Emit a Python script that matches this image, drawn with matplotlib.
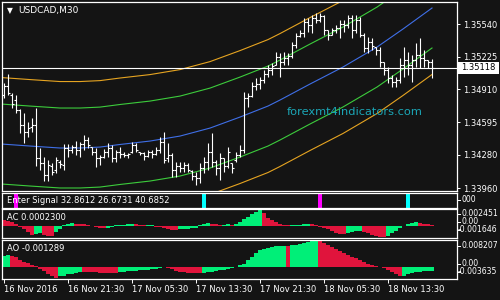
import matplotlib
matplotlib.use("Agg")
import matplotlib.pyplot as plt
import matplotlib.transforms as mtransforms
import numpy as np

# ---- data (USDCAD M30, one value per bar) ----
bar_high = [1.34972, 1.35058, 1.34875, 1.34856, 1.34721, 1.34683, 1.34596, 1.34635, 1.34731, 1.34346,
            1.34259, 1.34230, 1.34201, 1.34259, 1.34230, 1.34384, 1.34384, 1.34375, 1.34413, 1.34404,
            1.34471, 1.34452, 1.34355, 1.34346, 1.34278, 1.34336, 1.34394, 1.34375, 1.34326, 1.34355,
            1.34307, 1.34298, 1.34404, 1.34394, 1.34307, 1.34307, 1.34326, 1.34326, 1.34355, 1.34452,
            1.34500, 1.34394, 1.34298, 1.34211, 1.34211, 1.34211, 1.34201, 1.34134, 1.34115, 1.34201,
            1.34259, 1.34394, 1.34490, 1.34230, 1.34298, 1.34249, 1.34355, 1.34201, 1.34307, 1.34375,
            1.34885, 1.34875, 1.34981, 1.35020, 1.35029, 1.35097, 1.35145, 1.35164, 1.35270, 1.35261,
            1.35270, 1.35261, 1.35367, 1.35453, 1.35482, 1.35598, 1.35598, 1.35627, 1.35646, 1.35646,
            1.35627, 1.35482, 1.35501, 1.35530, 1.35578, 1.35578, 1.35627, 1.35627, 1.35627, 1.35607,
            1.35453, 1.35415, 1.35405, 1.35318, 1.35318, 1.35174, 1.35126, 1.35049, 1.35029, 1.35212,
            1.35318, 1.35270, 1.35241, 1.35357, 1.35405, 1.35290, 1.35193, 1.35203]
bar_low = [1.34827, 1.34856, 1.34731, 1.34683, 1.34490, 1.34394, 1.34452, 1.34500, 1.34173, 1.34134,
           1.34028, 1.34028, 1.34086, 1.34105, 1.34153, 1.34134, 1.34259, 1.34298, 1.34278, 1.34259,
           1.34326, 1.34346, 1.34278, 1.34163, 1.34182, 1.34249, 1.34259, 1.34211, 1.34211, 1.34249,
           1.34259, 1.34249, 1.34298, 1.34307, 1.34278, 1.34230, 1.34259, 1.34249, 1.34278, 1.34298,
           1.34201, 1.34211, 1.34067, 1.34067, 1.34115, 1.34115, 1.34115, 1.34038, 1.33990, 1.34009,
           1.34105, 1.34134, 1.34163, 1.34086, 1.34038, 1.34115, 1.34153, 1.34105, 1.34211, 1.34259,
           1.34298, 1.34741, 1.34837, 1.34904, 1.34914, 1.34972, 1.35029, 1.35049, 1.35145, 1.35029,
           1.35145, 1.35145, 1.35212, 1.35309, 1.35415, 1.35415, 1.35463, 1.35453, 1.35550, 1.35559,
           1.35434, 1.35386, 1.35434, 1.35453, 1.35405, 1.35463, 1.35501, 1.35405, 1.35453, 1.35415,
           1.35270, 1.35261, 1.35290, 1.35241, 1.35126, 1.35049, 1.34972, 1.34933, 1.34933, 1.34972,
           1.35029, 1.35049, 1.34981, 1.35126, 1.35116, 1.35126, 1.35116, 1.35020]
bar_open = [1.34856, 1.34943, 1.34856, 1.34808, 1.34712, 1.34567, 1.34500, 1.34548, 1.34567, 1.34249,
            1.34201, 1.34086, 1.34173, 1.34134, 1.34211, 1.34182, 1.34346, 1.34326, 1.34355, 1.34326,
            1.34384, 1.34423, 1.34355, 1.34307, 1.34249, 1.34259, 1.34307, 1.34346, 1.34249, 1.34307,
            1.34288, 1.34278, 1.34307, 1.34375, 1.34307, 1.34298, 1.34269, 1.34307, 1.34288, 1.34326,
            1.34404, 1.34249, 1.34278, 1.34134, 1.34173, 1.34153, 1.34182, 1.34124, 1.34076, 1.34057,
            1.34153, 1.34211, 1.34307, 1.34211, 1.34153, 1.34249, 1.34173, 1.34201, 1.34230, 1.34278,
            1.34326, 1.34827, 1.34846, 1.34943, 1.34962, 1.35001, 1.35058, 1.35097, 1.35145, 1.35222,
            1.35174, 1.35212, 1.35232, 1.35338, 1.35424, 1.35453, 1.35559, 1.35530, 1.35598, 1.35578,
            1.35617, 1.35482, 1.35434, 1.35482, 1.35501, 1.35540, 1.35530, 1.35598, 1.35482, 1.35578,
            1.35434, 1.35309, 1.35367, 1.35318, 1.35290, 1.35174, 1.35097, 1.35020, 1.34981, 1.35001,
            1.35145, 1.35193, 1.35145, 1.35193, 1.35241, 1.35212, 1.35193, 1.35174]
bar_close = [1.34943, 1.34875, 1.34770, 1.34712, 1.34567, 1.34500, 1.34538, 1.34567, 1.34249, 1.34201,
             1.34086, 1.34182, 1.34115, 1.34230, 1.34192, 1.34346, 1.34326, 1.34355, 1.34326, 1.34384,
             1.34423, 1.34375, 1.34307, 1.34249, 1.34259, 1.34307, 1.34346, 1.34249, 1.34307, 1.34288,
             1.34278, 1.34288, 1.34375, 1.34326, 1.34298, 1.34269, 1.34307, 1.34288, 1.34326, 1.34404,
             1.34230, 1.34278, 1.34134, 1.34173, 1.34153, 1.34182, 1.34134, 1.34076, 1.34057, 1.34153,
             1.34211, 1.34307, 1.34211, 1.34153, 1.34249, 1.34173, 1.34307, 1.34153, 1.34278, 1.34326,
             1.34827, 1.34846, 1.34943, 1.34962, 1.35001, 1.35058, 1.35097, 1.35135, 1.35222, 1.35174,
             1.35212, 1.35232, 1.35338, 1.35424, 1.35453, 1.35559, 1.35530, 1.35598, 1.35578, 1.35617,
             1.35482, 1.35434, 1.35482, 1.35501, 1.35540, 1.35530, 1.35598, 1.35482, 1.35578, 1.35434,
             1.35309, 1.35367, 1.35328, 1.35290, 1.35174, 1.35097, 1.35020, 1.34981, 1.35001, 1.35145,
             1.35193, 1.35145, 1.35193, 1.35241, 1.35212, 1.35193, 1.35174, 1.35118]

# regression channel: middle line sampled along the bars, constant widths
band_bar = [-0.5, 6.5, 14, 19, 24, 29, 36.5, 44, 51.5, 59, 66, 69, 76.5, 84.75, 93.25, 99.75, 107]
band_mid = [1.34384, 1.34365, 1.34346, 1.34346, 1.34355, 1.34380, 1.34413, 1.34461, 1.34538,
            1.34644, 1.34750, 1.34808, 1.34962, 1.35126, 1.35318, 1.35492, 1.35694]
band_inner = 0.00385
band_outer = 0.00640

last_price = 1.35118
price_ticks = [1.35540, 1.35225, 1.34910, 1.34595, 1.34280, 1.33960]

signal_bar = [3, 50, 79, 101]
signal_kind = ["sell", "buy", "sell", "buy"]
signal_text = "Enter Signal 32.8612 26.6731 40.6852"

ac_values = [0.00088, 0.00073, 0.00059, 0.00029, -0.00015, -0.00044, -0.00088, -0.00132, -0.00117, -0.00102,
             -0.00132, -0.00146, -0.00150, -0.00088, -0.00044, 0.00015, 0.00029, 0.00044, 0.00040, 0.00037,
             0.00029, 0.00015, 0.00003, -0.00015, -0.00029, -0.00032, -0.00022, -0.00015, 0.00015, 0.00017,
             0.00022, 0.00026, 0.00029, 0.00027, 0.00022, 0.00015, 0.00017, 0.00018, -0.00007, -0.00015,
             -0.00022, -0.00044, -0.00059, -0.00062, -0.00044, -0.00040, -0.00037, -0.00029, -0.00022, 0.00015,
             0.00029, 0.00044, 0.00040, 0.00029, 0.00015, 0.00018, 0.00029, 0.00015, 0.00029, 0.00059,
             0.00102, 0.00140, 0.00176, 0.00205, 0.00245, 0.00190, 0.00127, 0.00092, 0.00059, 0.00029,
             0.00019, 0.00015, 0.00017, 0.00018, 0.00019, 0.00029, 0.00034, 0.00029, 0.00019, -0.00004,
             -0.00019, -0.00044, -0.00069, -0.00102, -0.00117, -0.00120, -0.00102, -0.00078, -0.00069, -0.00066,
             -0.00078, -0.00102, -0.00127, -0.00136, -0.00151, -0.00160, -0.00136, -0.00102, -0.00069, -0.00029,
             0.00000, 0.00029, 0.00054, 0.00069, 0.00054, 0.00040, 0.00029, 0.00023]
ao_values = [0.00352, 0.00358, 0.00327, 0.00290, 0.00218, 0.00146, 0.00103, 0.00062, 0.00031, -0.00062,
             -0.00125, -0.00227, -0.00302, -0.00363, -0.00302, -0.00271, -0.00227, -0.00209, -0.00187, -0.00165,
             -0.00168, -0.00171, -0.00174, -0.00177, -0.00180, -0.00182, -0.00184, -0.00186, -0.00187, -0.00165,
             -0.00156, -0.00146, -0.00134, -0.00125, -0.00115, -0.00103, -0.00093, -0.00084, -0.00062, -0.00040,
             -0.00015, -0.00030, -0.00080, -0.00120, -0.00150, -0.00170, -0.00180, -0.00187, -0.00190, -0.00192,
             -0.00185, -0.00170, -0.00150, -0.00130, -0.00110, -0.00090, -0.00070, -0.00045, -0.00015, 0.00050,
             0.00100, 0.00200, 0.00290, 0.00427, 0.00508, 0.00552, 0.00583, 0.00614, 0.00633, 0.00645,
             0.00655, 0.00650, 0.00664, 0.00686, 0.00717, 0.00740, 0.00765, 0.00795, 0.00821, 0.00790,
             0.00740, 0.00690, 0.00630, 0.00560, 0.00480, 0.00420, 0.00370, 0.00320, 0.00265, 0.00200,
             0.00145, 0.00090, 0.00065, 0.00030, -0.00015, -0.00045, -0.00100, -0.00175, -0.00235, -0.00280,
             -0.00275, -0.00235, -0.00200, -0.00170, -0.00150, -0.00145, -0.00135, -0.00129]
ac_label = "AC 0.0002300"
ao_label = "AO -0.001289"
ac_scale = ["0.002451", "0.00", "-0.001646"]
ao_scale = ["0.008207", "0.00", "-0.003635"]

time_bar = [0, 16, 32, 48, 64, 80, 96]
time_labels = ["16 Nov 2016", "16 Nov 21:30", "17 Nov 05:30", "17 Nov 13:30",
               "17 Nov 21:30", "18 Nov 05:30", "18 Nov 13:30"]

# ---- style ----
BG = "#141414"
FG = "white"
C_OUTER, C_INNER, C_MID = "#e6a421", "#3ccc3c", "#3f6fe8"
C_UP, C_DN = "#00ef78", "#e0143c"
SIG = {"sell": "#ff00ff", "buy": "#00ffff"}
FS = 6
W, H = 500, 300

fig = plt.figure(figsize=(5, 3), dpi=100, facecolor=BG)


def panel(top, bottom, left=2, right=457):
    ax = fig.add_axes([left / W, 1 - bottom / H, (right - left) / W, (bottom - top) / H])
    ax.set_facecolor(BG)
    for s in ax.spines.values():
        s.set_color(FG)
        s.set_linewidth(0.9)
    ax.set_xlim(-0.5, 113.25)
    ax.set_xticks([])
    ax.set_yticks([])
    return ax


def right_label(y_px, txt):
    # scale labels of the sub-windows, placed where MT4 draws them
    x0 = 458 if txt.startswith("-") else 461
    fig.text(x0 / W, 1 - y_px / H, txt, color=FG, fontsize=5.6, va="center", ha="left")
    fig.add_artist(plt.Line2D([457 / W, 460 / W], [1 - y_px / H] * 2, color=FG, lw=0.7))


x = np.arange(len(bar_high))

# ---- main price window ----
ax = panel(2, 191)
ax.set_ylim(1.33932, 1.35752)
mid = np.array(band_mid)
for off, col in [(band_outer, C_OUTER), (band_inner, C_INNER)]:
    ax.plot(band_bar, mid + off, color=col, lw=0.8)
    ax.plot(band_bar, mid - off, color=col, lw=0.8)
ax.plot(band_bar, mid, color=C_MID, lw=0.8)

ax.vlines(x, bar_low, bar_high, color=FG, lw=0.8)
ax.hlines(bar_open, x - 0.4, x, color=FG, lw=0.8)
ax.hlines(bar_close, x, x + 0.4, color=FG, lw=0.8)
ax.axhline(last_price, color=FG, lw=0.8)

ax.yaxis.tick_right()
ax.set_yticks(price_ticks)
ax.set_yticklabels([f"{p:.5f}" for p in price_ticks])
ax.tick_params(axis="y", colors=FG, labelsize=FS, length=2.5, width=0.7, pad=2)

# current price box on the price scale
trans = mtransforms.blended_transform_factory(fig.transFigure, ax.transData)
ax.add_patch(plt.Rectangle((457 / W, last_price - 0.00058), 42 / W, 0.00116, transform=trans,
                           facecolor="white", edgecolor="none", clip_on=False, zorder=5))
ax.text(461 / W, last_price, f"{last_price:.5f}", transform=trans, fontsize=FS, color="black",
        va="center", ha="left", zorder=6)

ax.text(0.011, 0.955, "\u25bc", transform=ax.transAxes, color=FG, fontsize=5.5, va="center")
ax.text(0.036, 0.955, "USDCAD,M30", transform=ax.transAxes, color=FG, fontsize=6.5, va="center")
ax.text(0.776, 0.418, "forexmt4indicators.com", transform=ax.transAxes, color="#1ba6b6",
        fontsize=8.2, ha="center", va="center")

# ---- signal window ----
axs = panel(192.5, 207.5)
axs.set_ylim(0, 1)
axs.bar(signal_bar, 1, width=0.85, color=[SIG[k] for k in signal_kind])
axs.text(0.011, 0.45, signal_text, transform=axs.transAxes, color=FG, fontsize=FS, va="center")
right_label(200, "000")

# ---- AC window ----
axc = panel(209, 238)
axc.set_ylim(-0.00172, 0.00252)
ac = np.array(ac_values)
up = np.r_[False, np.diff(ac) > 0]
axc.bar(x, ac, width=0.78, color=np.where(up, C_UP, C_DN))
axc.text(0.011, 0.7, ac_label, transform=axc.transAxes, color=FG, fontsize=FS, va="center")
for y_px, t in zip([214, 222, 230], ac_scale):
    right_label(y_px, t)

# ---- AO window ----
axo = panel(240, 279)
axo.set_ylim(-0.00380, 0.00835)
ao = np.array(ao_values)
up = np.r_[True, np.diff(ao) > 0]
axo.bar(x, ao, width=0.78, color=np.where(up, C_UP, C_DN))
axo.text(0.011, 0.78, ao_label, transform=axo.transAxes, color=FG, fontsize=FS, va="center")
for y_px, t in zip([246, 264, 272], ao_scale):
    right_label(y_px, t)

axo.set_xticks(time_bar)
axo.set_xticklabels(time_labels)
axo.tick_params(axis="x", colors=FG, labelsize=FS, length=3, width=0.7, pad=1.5)
for lab in axo.get_xticklabels():
    lab.set_horizontalalignment("left")

fig.savefig("out.png", dpi=100, facecolor=BG)
